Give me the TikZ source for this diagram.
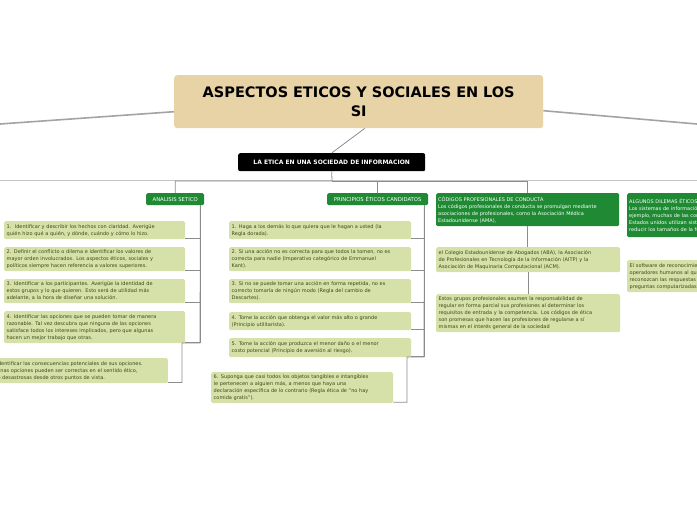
\documentclass[tikz,border=0pt]{standalone}
\usepackage{fontspec}
\setmainfont{DejaVu Sans}
\begin{document}
\begin{tikzpicture}[x=1pt,y=-1pt,
  item/.style={anchor=north west,fill=itemfill,rounded corners=1.5pt,inner sep=2.5pt,align=left,
    font=\fontsize{5}{7}\selectfont,text=itemtext},
  gbox/.style={anchor=north west,fill=gfill,rounded corners=1.5pt,inner sep=2pt,align=left,
    font=\fontsize{5}{7}\selectfont,text=white},
  conn/.style={draw=linec,line width=0.8pt}]
\definecolor{itemfill}{HTML}{D6E0A9}
\definecolor{itemtext}{HTML}{3D4A14}
\definecolor{gfill}{HTML}{1F8A33}
\definecolor{linec}{HTML}{8C8C8C}
\definecolor{titlefill}{HTML}{E8D3A6}
\useasboundingbox (0,0) rectangle (697,520);
\clip (0,0) rectangle (697,520);
% title
\node[anchor=north west,fill=titlefill,rounded corners=3pt,minimum width=369,minimum height=53,
  text width=340,align=center,font=\fontsize{14.5}{19}\selectfont\bfseries,inner sep=0pt]
  (title) at (174,75) {ASPECTOS ETICOS Y SOCIALES EN LOS\\SI};
\coordinate (tl) at (0,124);
\coordinate (tr) at (697,124);
\draw[draw=linec!80,line width=1.6pt] ([yshift=-10]title.west) -- (tl);
\draw[draw=linec!80,line width=1.6pt] ([yshift=-9]title.east) -- (tr);
% black box
\node[anchor=north west,fill=black,rounded corners=2pt,minimum width=187,minimum height=18,inner sep=0pt,
  text=white,font=\fontsize{6}{7}\selectfont\bfseries] (soc) at (238,153) {LA ETICA EN UNA SOCIEDAD DE INFORMACION};
\draw[conn] ([xshift=6]title.south) -- (soc.north);
\coordinate (bl) at (0,180);
\coordinate (br) at (697,180);
\draw[draw=linec!50,line width=1pt] (bl) -- (br);
% level-2
\node[gbox,minimum width=58,minimum height=12,font=\fontsize{5.3}{6}\selectfont] (an) at (146,193) {ANALISIS SETICO};
\node[gbox,minimum width=101,minimum height=12,font=\fontsize{5.3}{6}\selectfont] (pr) at (327,193) {PRINCIPIOS ÉTICOS CANDIDATOS};
\node[gbox,text width=179,minimum height=33] (co) at (436,193)
  {CÓDIGOS PROFESIONALES DE CONDUCTA\\Los códigos profesionales de conducta se promulgan mediante\\asociaciones de profesionales, como la Asociación Médica\\Estadounidense (AMA),};
\node[gbox,text width=179,minimum height=44] (al) at (627,193)
  {ALGUNOS DILEMAS ÉTICOS\\Los sistemas de información en los que un conjunto de\\ejemplo, muchas de las compañías de\\Estados unidos utilizan sistemas para\\reducir los tamaños de la fuerza};
\draw[conn] (soc.south) -- (332,181) -| (an.north);
\draw[conn] (332,181) -| (pr.north);
\draw[conn] (332,181) -| (co.north);
% analisis items
\node[item,text width=176,minimum height=18] (a1) at (4,221) {1.\ \ Identificar y describir los hechos con claridad. Averigüe\\quién hizo qué a quién, y dónde, cuándo y cómo lo hizo.};
\node[item,text width=176,minimum height=24] (a2) at (4,247) {2. Definir el conflicto o dilema e identificar los valores de\\mayor orden involucrados. Los aspectos éticos, sociales y\\políticos siempre hacen referencia a valores superiores.};
\node[item,text width=176,minimum height=24] (a3) at (4,279) {3. Identificar a los participantes. Averigüe la identidad de\\estos grupos y lo que quieren. Esto será de utilidad más\\adelante, a la hora de diseñar una solución.};
\node[item,text width=176,minimum height=32] (a4) at (4,311) {4. Identificar las opciones que se pueden tomar de manera\\razonable. Tal vez descubra que ninguna de las opciones\\satisface todos los intereses implicados, pero que algunas\\hacen un mejor trabajo que otras.};
\node[item,text width=176,minimum height=25,anchor=north east] (a5) at (168,358) {5. Identificar las consecuencias potenciales de sus opciones.\\Algunas opciones pueden ser correctas en el sentido ético,\\pero desastrosas desde otros puntos de vista.};
\foreach \n in {a1,a2,a3,a4} \draw[conn] ([xshift=-4]an.south east) |- ([yshift=1]\n.south east);
\draw[conn] ([xshift=-4]an.south east) -- (200,343) -| (182,343) |- ([yshift=1]a5.south east);
% principios items
\node[item,text width=177,minimum height=18] (p1) at (229,221) {1. Haga a los demás lo que quiera que le hagan a usted (la\\Regla dorada).};
\node[item,text width=177,minimum height=24] (p2) at (229,247) {2. Si una acción no es correcta para que todos la tomen, no es\\correcta para nadie (Imperativo categórico de Emmanuel\\Kant).};
\node[item,text width=177,minimum height=24] (p3) at (229,279) {3. Si no se puede tomar una acción en forma repetida, no es\\correcto tomarla de ningún modo (Regla del cambio de\\Descartes).};
\node[item,text width=177,minimum height=18] (p4) at (229,312) {4. Tome la acción que obtenga el valor más alto o grande\\(Principio utilitarista).};
\node[item,text width=177,minimum height=19] (p5) at (229,338) {5. Tome la acción que produzca el menor daño o el menor\\costo potencial (Principio de aversión al riesgo).};
\node[item,text width=177,minimum height=28] (p6) at (211,372) {6. Suponga que casi todos los objetos tangibles e intangibles\\le pertenecen a alguien más, a menos que haya una\\declaración específica de lo contrario (Regla ética de "no hay\\comida gratis").};
\foreach \n in {p1,p2,p3,p4,p5} \draw[conn] ([xshift=-4]pr.south east) |- ([yshift=1]\n.south east);
\draw[conn] ([xshift=-4]pr.south east) -- (424,357) -| (407,357) |- ([yshift=1]p6.south east);
% codigos items
\node[item,text width=179,minimum height=25] (c2) at (436,247) {el Colegio Estadounidense de Abogados (ABA), la Asociación\\de Profesionales en Tecnología de la Información (AITP) y la\\Asociación de Maquinaria Computacional (ACM).};
\node[item,text width=179,minimum height=38] (c3) at (436,294) {Estos grupos profesionales asumen la responsabilidad de\\regular en forma parcial sus profesiones al determinar los\\requisitos de entrada y la competencia. Los códigos de ética\\son promesas que hacen las profesiones de regularse a sí\\mismas en el interés general de la sociedad};
\draw[conn] (co.south) -- (c2.north -| co.south);
\draw[conn] (c2.south) -- (c3.north -| c2.south);
\node[item,text width=179,minimum height=32] (s1) at (627,260) {El software de reconocimiento de voz permite a los\\operadores humanos al que los clientes\\reconozcan las respuestas de los clientes a\\preguntas computarizadas};
\end{tikzpicture}
\end{document}
